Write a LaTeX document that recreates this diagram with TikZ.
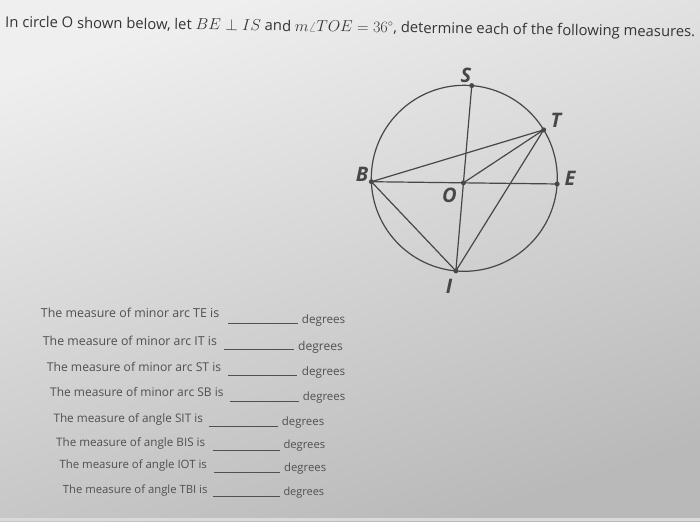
\documentclass[tikz,border=0pt]{standalone}
\usepackage{fontspec}
\setmainfont{Open Sans}
\usepackage{graphicx}
\usetikzlibrary{calc}
\definecolor{ink}{HTML}{474747}
\definecolor{titleink}{HTML}{353535}
\definecolor{qink}{HTML}{505050}
\definecolor{bgtop}{HTML}{EFEFEF}
\definecolor{bgbot}{HTML}{B9B9B9}
\definecolor{strip}{HTML}{DADADA}
\newcommand{\fitw}[2]{\resizebox{#1pt}{!}{#2}}
\begin{document}
\begin{tikzpicture}[x=1pt,y=-1pt,
  geo/.style={draw=ink,line width=1.2pt},
  dot/.style={circle,fill=ink,inner sep=0pt,minimum size=5pt},
  lbl/.style={font=\fontsize{20}{20}\selectfont\bfseries\itshape,text=ink,inner sep=0pt},
  q/.style={anchor=base west,text=qink,inner sep=0pt},
  blank/.style={draw=qink,line width=0.7pt}]
\useasboundingbox (0,0) rectangle (700,521);
\shade[top color=bgtop,bottom color=bgbot,shading angle=18] (0,0) rectangle (700,521);
\fill[strip] (0,518) rectangle (700,521);

% title
\node[anchor=base west,inner sep=0pt,text=titleink,rotate=-0.83] (title) at (5,27)
  {\fitw{690}{\fontsize{16}{18}\selectfont In circle O shown below, let $BE\perp IS$ and $m\angle TOE=36^\circ$, determine each of the following measures.}};

% circle
\coordinate (C) at (464.3,178.3);
\draw[geo] (C) circle[radius=93];
\node[dot] (B) at ($(C)+(177.9:93)$) {};
\node[dot] (E) at ($(C)+(3.5:93)$) {};
\node[dot] (S) at ($(C)+(-85.4:93)$) {};
\node[dot] (I) at ($(C)+(95.2:93)$) {};
\node[dot] (T) at ($(C)+(-31.4:93)$) {};
\node[dot] (O) at (intersection of B--E and S--I) {};
\draw[geo] (S.center) -- (I.center);
\draw[geo] (B.center) -- (E.center);
\draw[geo] (B.center) -- (T.center);
\draw[geo] (O.center) -- (T.center);
\draw[geo] (T.center) -- (I.center);
\draw[geo] (B.center) -- (I.center);

\node[lbl] (lS) at (466,75) {S};
\node[lbl] (lT) at (556,120.5) {T};
\node[lbl] (lB) at (362,174) {B};
\node[lbl] (lE) at (570,178.3) {E};
\node[lbl] (lO) at (449.5,195) {O};
\node[lbl] (lI) at (449,286) {I};

% questions
\node[q] (q1) at (40.7,317.7) {\fitw{178.3}{The measure of minor arc TE is}};
\coordinate (a1) at (228,323.3); \coordinate (b1) at (298,323.3); \draw[blank] (a1) -- (b1);
\node[q] (d1) at (301.7,323) {\fitw{43.3}{degrees}};

\node[q] (q2) at (42.7,345) {\fitw{174}{The measure of minor arc IT is}};
\coordinate (a2) at (224,349); \coordinate (b2) at (294,349); \draw[blank] (a2) -- (b2);
\node[q] (d2) at (298,350) {\fitw{44.7}{degrees}};

\node[q] (q3) at (46.7,371) {\fitw{174.3}{The measure of minor arc ST is}};
\coordinate (a3) at (228,375); \coordinate (b3) at (296.7,375); \draw[blank] (a3) -- (b3);
\node[q] (d3) at (301.7,375) {\fitw{43.3}{degrees}};

\node[q] (q4) at (50,396.7) {\fitw{173.3}{The measure of minor arc SB is}};
\coordinate (a4) at (230,401.7); \coordinate (b4) at (299,401.7); \draw[blank] (a4) -- (b4);
\node[q] (d4) at (302.7,400) {\fitw{42.3}{degrees}};

\node[q] (q5) at (53.3,422.7) {\fitw{149.4}{The measure of angle SIT is}};
\coordinate (a5) at (209.3,426); \coordinate (b5) at (278.3,426); \draw[blank] (a5) -- (b5);
\node[q] (d5) at (281.7,425) {\fitw{42.3}{degrees}};

\node[q] (q6) at (56,446.7) {\fitw{149}{The measure of angle BIS is}};
\coordinate (a6) at (212.7,450); \coordinate (b6) at (280,450); \draw[blank] (a6) -- (b6);
\node[q] (d6) at (283.3,448.7) {\fitw{41.7}{degrees}};

\node[q] (q7) at (59.3,468.3) {\fitw{147.4}{The measure of angle IOT is}};
\coordinate (a7) at (214,472.7); \coordinate (b7) at (280,472.7); \draw[blank] (a7) -- (b7);
\node[q] (d7) at (284,471.7) {\fitw{42}{degrees}};

\node[q] (q8) at (62.7,493.3) {\fitw{144.6}{The measure of angle TBI is}};
\coordinate (a8) at (213.3,496.7); \coordinate (b8) at (280,496.7); \draw[blank] (a8) -- (b8);
\node[q] (d8) at (283.3,495) {\fitw{40.7}{degrees}};
\end{tikzpicture}
\end{document}
